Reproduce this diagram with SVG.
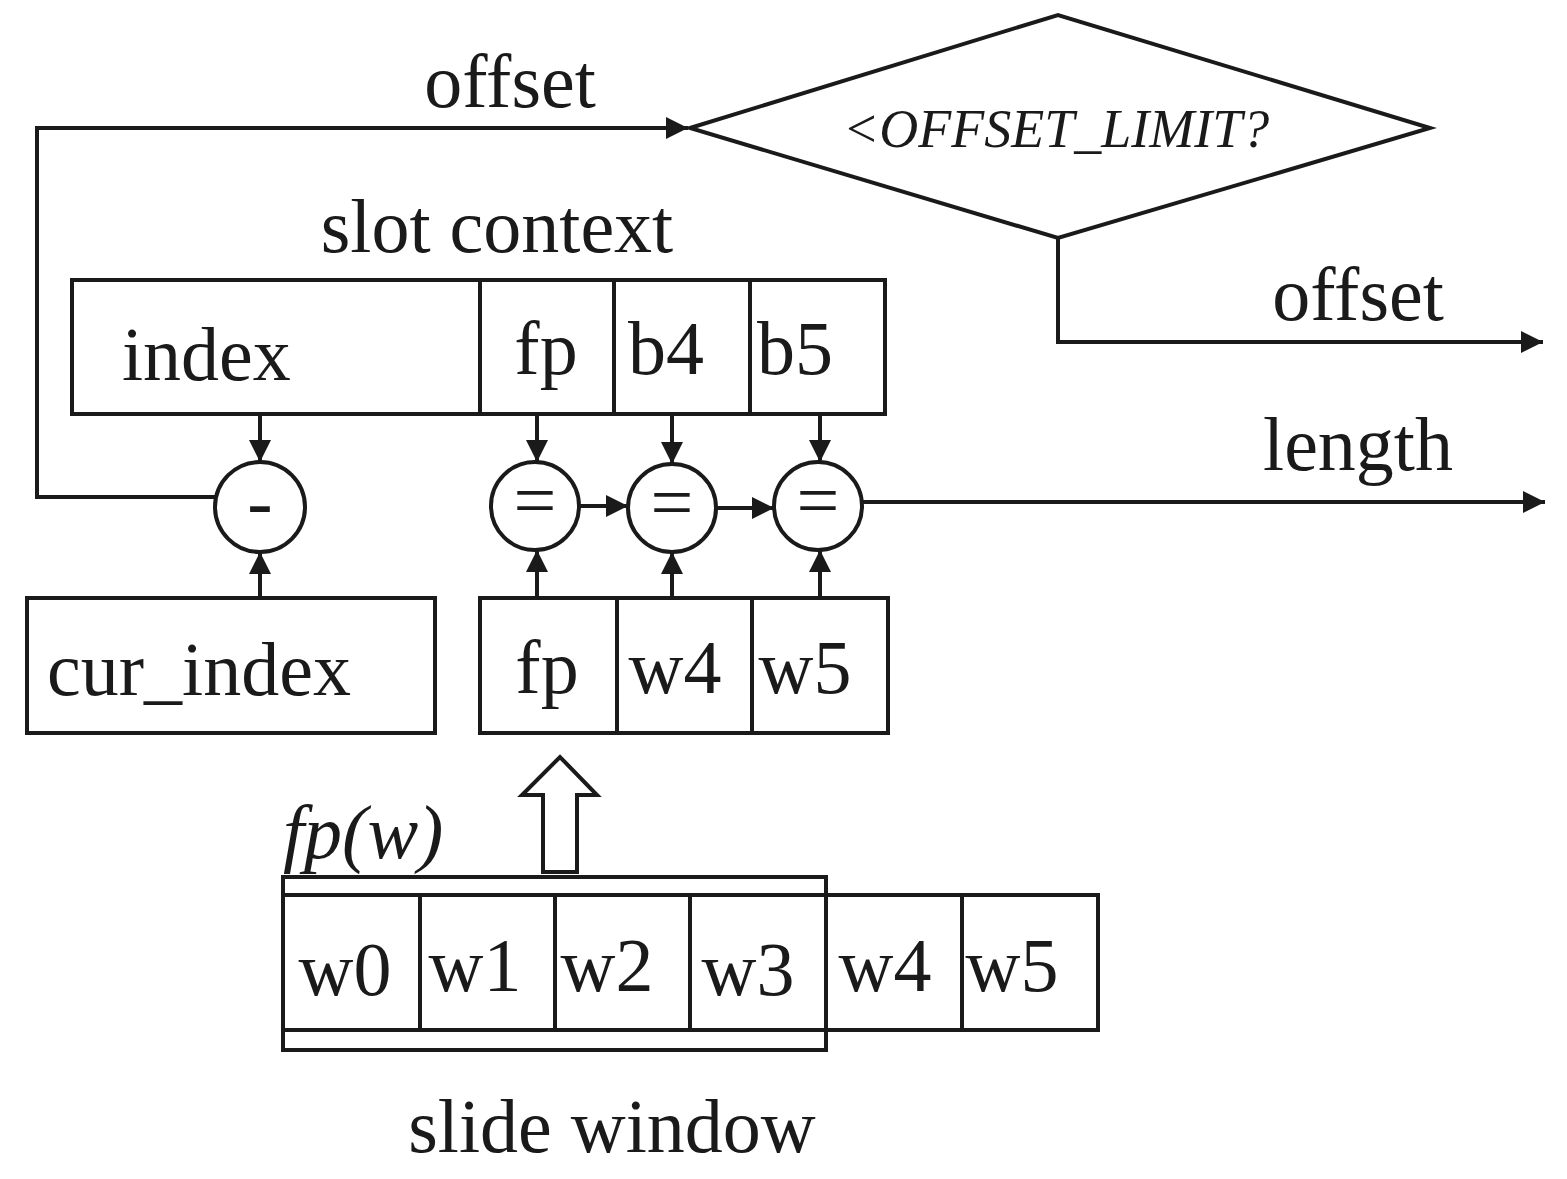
<svg xmlns="http://www.w3.org/2000/svg" width="1567" height="1179" viewBox="0 0 1567 1179">
<defs>
<style>
.s{fill:none;stroke:#1a1a1a;stroke-width:4}
.t{font-family:"Liberation Serif",serif;font-size:76px;fill:#1a1a1a}
.m{text-anchor:middle}
.i{font-style:italic}
</style>
<marker id="b" viewBox="0 0 10 10" refX="10" refY="5" markerWidth="30" markerHeight="22" orient="auto" markerUnits="userSpaceOnUse"><path d="M0,0 L10,5 L0,10Z" fill="#1a1a1a"/></marker>
</defs>
<rect width="1567" height="1179" fill="#fff"/>
<g id="decision">
<polygon class="s" points="690,128 1058,15 1430,128 1058,238"/>
<text class="t i m" x="1056" y="147" style="font-size:54px">&lt;OFFSET_LIMIT?</text>
</g>
<g id="slot">
<text class="t m" x="497" y="252">slot context</text>
<rect class="s" x="72" y="280" width="813" height="134"/>
<path class="s" d="M480,280V414M614,280V414M750,280V414"/>
<text class="t" x="122" y="380">index</text>
<text class="t m" x="546" y="374">fp</text>
<text class="t m" x="666" y="374">b4</text>
<text class="t m" x="795" y="374">b5</text>
</g>
<g id="ops">
<circle class="s" cx="260" cy="507" r="45"/>
<text class="t m" x="260" y="527">-</text>
<circle class="s" cx="535" cy="506" r="44"/>
<circle class="s" cx="672" cy="508" r="44"/>
<circle class="s" cx="818" cy="506" r="44"/>
<text class="t m" x="535" y="526">=</text>
<text class="t m" x="672" y="528">=</text>
<text class="t m" x="818" y="526">=</text>
</g>
<g id="cur">
<rect class="s" x="27" y="598" width="408" height="135"/>
<text class="t" x="47" y="695">cur_index</text>
</g>
<g id="win">
<rect class="s" x="480" y="598" width="408" height="135"/>
<path class="s" d="M617,598V733M752,598V733"/>
<text class="t m" x="547" y="693">fp</text>
<text class="t m" x="675" y="693">w4</text>
<text class="t m" x="805" y="693">w5</text>
</g>
<g id="slide">
<text class="t i" x="283" y="858">fp(w)</text>
<rect class="s" x="283" y="877" width="543" height="173"/>
<rect class="s" x="283" y="895" width="815" height="135"/>
<path class="s" d="M420,895V1030M555,895V1030M690,895V1030M826,895V1030M962,895V1030"/>
<text class="t m" x="345" y="995">w0</text>
<text class="t m" x="475" y="991">w1</text>
<text class="t m" x="607" y="991">w2</text>
<text class="t m" x="748" y="995">w3</text>
<text class="t m" x="885" y="991">w4</text>
<text class="t m" x="1012" y="991">w5</text>
<text class="t m" x="612" y="1152">slide window</text>
</g>
<g id="connectors">
<path class="s" d="M215,497H37V128H688" marker-end="url(#b)"/>
<text class="t m" x="510" y="107">offset</text>
<path class="s" d="M1058,238V342H1543" marker-end="url(#b)"/>
<text class="t m" x="1358" y="320">offset</text>
<path class="s" d="M862,502H1545" marker-end="url(#b)"/>
<text class="t m" x="1358" y="470">length</text>
<path class="s" d="M260,414V462" marker-end="url(#b)"/>
<path class="s" d="M537,414V462" marker-end="url(#b)"/>
<path class="s" d="M672,414V464" marker-end="url(#b)"/>
<path class="s" d="M820,414V462" marker-end="url(#b)"/>
<path class="s" d="M260,598V552" marker-end="url(#b)"/>
<path class="s" d="M537,598V550" marker-end="url(#b)"/>
<path class="s" d="M672,598V552" marker-end="url(#b)"/>
<path class="s" d="M820,598V550" marker-end="url(#b)"/>
<path class="s" d="M579,506H628" marker-end="url(#b)"/>
<path class="s" d="M716,508H774" marker-end="url(#b)"/>
<polygon class="s" points="543,872 543,795 522,795 560,757 597,795 577,795 577,872"/>
</g>
</svg>
